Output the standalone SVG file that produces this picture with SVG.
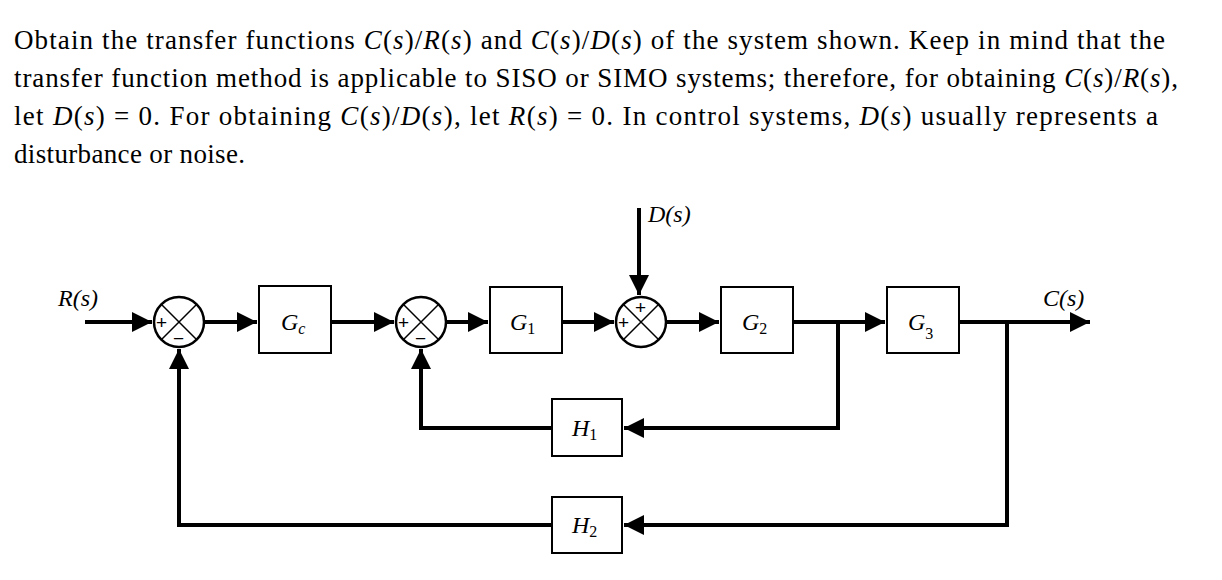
<svg xmlns="http://www.w3.org/2000/svg" width="1222" height="580" viewBox="0 0 1222 580">
<style>
.t{font-family:"Liberation Serif",serif;font-size:27px;fill:#000}
.m{font-style:italic}
.b{fill:#fff;stroke:#000;stroke-width:2}
.s{fill:#fff;stroke:#000;stroke-width:2.5}
.x{stroke:#000;stroke-width:1.5}
.l{font-family:"Liberation Serif",serif;font-size:24px;font-style:italic}
.w{fill:none;stroke:#000;stroke-width:4}
.p{font-family:"Liberation Sans",sans-serif;font-size:19px}
</style>
<defs><marker id="a" viewBox="0 0 10 10" refX="10" refY="5" markerWidth="8" markerHeight="5" markerUnits="strokeWidth" orient="auto"><path d="M0,0L10,5L0,10z" fill="#000"/></marker></defs>
<rect width="1222" height="580" fill="#fff"/>
<text class="t" x="14" y="49" textLength="1151" lengthAdjust="spacing">Obtain the transfer functions <tspan class="m">C</tspan>(<tspan class="m">s</tspan>)/<tspan class="m">R</tspan>(<tspan class="m">s</tspan>) and <tspan class="m">C</tspan>(<tspan class="m">s</tspan>)/<tspan class="m">D</tspan>(<tspan class="m">s</tspan>) of the system shown. Keep in mind that the</text>
<text class="t" x="14" y="87" textLength="1164" lengthAdjust="spacing">transfer function method is applicable to SISO or SIMO systems; therefore, for obtaining <tspan class="m">C</tspan>(<tspan class="m">s</tspan>)/<tspan class="m">R</tspan>(<tspan class="m">s</tspan>),</text>
<text class="t" x="14" y="125" textLength="1144" lengthAdjust="spacing">let <tspan class="m">D</tspan>(<tspan class="m">s</tspan>) = 0. For obtaining <tspan class="m">C</tspan>(<tspan class="m">s</tspan>)/<tspan class="m">D</tspan>(<tspan class="m">s</tspan>), let <tspan class="m">R</tspan>(<tspan class="m">s</tspan>) = 0. In control systems, <tspan class="m">D</tspan>(<tspan class="m">s</tspan>) usually represents a</text>
<text class="t" x="14" y="163" textLength="231" lengthAdjust="spacing">disturbance or noise.</text>
<g id="connectors">
<path class="w" d="M85,322H152" marker-end="url(#a)"/>
<path class="w" d="M204,322H257" marker-end="url(#a)"/>
<path class="w" d="M331,322H394" marker-end="url(#a)"/>
<path class="w" d="M446,322H488" marker-end="url(#a)"/>
<path class="w" d="M562,322H614" marker-end="url(#a)"/>
<path class="w" d="M639,208V295" marker-end="url(#a)"/>
<path class="w" d="M666,322H719" marker-end="url(#a)"/>
<path class="w" d="M793,322H885" marker-end="url(#a)"/>
<path class="w" d="M959,322H1090" marker-end="url(#a)"/>
<path class="w" d="M838,322V428H624" marker-end="url(#a)"/>
<path class="w" d="M552,428H421V349" marker-end="url(#a)"/>
<path class="w" d="M1007,322V525H624" marker-end="url(#a)"/>
<path class="w" d="M552,525H179V349" marker-end="url(#a)"/>
</g>
<g id="sum1"><circle class="s" cx="179" cy="322" r="25"/><path class="x" d="M161,304L197,340M197,304L161,340"/><text class="p" x="156" y="329">+</text><text class="p" x="173" y="345">−</text></g>
<g id="sum2"><circle class="s" cx="421" cy="322" r="25"/><path class="x" d="M403,304L439,340M439,304L403,340"/><text class="p" x="398" y="329">+</text><text class="p" x="415" y="345">−</text></g>
<g id="sum3"><circle class="s" cx="641" cy="322" r="25"/><path class="x" d="M623,304L659,340M659,304L623,340"/><text class="p" x="618" y="329">+</text><text class="p" x="635" y="314">+</text></g>
<g id="Gc"><rect class="b" x="259" y="286" width="72" height="67"/><text class="l" x="281" y="330">G<tspan font-size="16" dy="4">c</tspan></text></g>
<g id="G1"><rect class="b" x="490" y="287" width="72" height="66"/><text class="l" x="510" y="330">G<tspan font-size="16" dy="4" font-style="normal">1</tspan></text></g>
<g id="G2"><rect class="b" x="721" y="287" width="72" height="66"/><text class="l" x="742" y="330">G<tspan font-size="16" dy="4" font-style="normal">2</tspan></text></g>
<g id="G3"><rect class="b" x="887" y="287" width="72" height="66"/><text class="l" x="908" y="330">G<tspan font-size="16" dy="9" font-style="normal">3</tspan></text></g>
<g id="H1"><rect class="b" x="552" y="399" width="70" height="57"/><text class="l" x="572" y="436">H<tspan font-size="16" dy="4" font-style="normal">1</tspan></text></g>
<g id="H2"><rect class="b" x="552" y="497" width="70" height="56"/><text class="l" x="572" y="533">H<tspan font-size="16" dy="4" font-style="normal">2</tspan></text></g>
<text class="l" x="58" y="306" font-style="normal">R(s)</text>
<text class="l" x="1043" y="306" font-style="normal">C(s)</text>
<text class="l" x="648" y="222">D(s)</text>
</svg>
